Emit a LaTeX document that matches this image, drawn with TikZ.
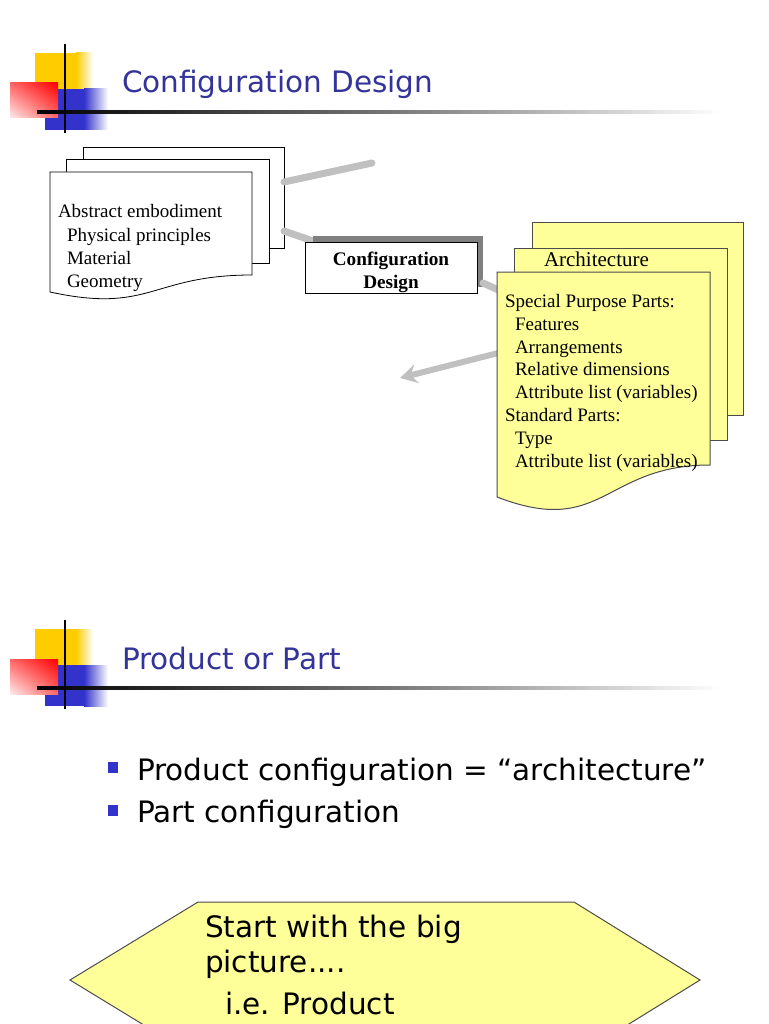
\documentclass[tikz,border=0pt]{standalone}
\usepackage{fontspec}
\setmainfont{Liberation Serif}
\newfontfamily\dejavu{DejaVu Sans}
\usetikzlibrary{arrows.meta,shadings}
\definecolor{titleblue}{HTML}{333399}
\definecolor{logoyellow}{HTML}{FFCC00}
\definecolor{logored}{HTML}{FF0000}
\definecolor{logoblue}{HTML}{3333CC}
\definecolor{paleyellow}{HTML}{FFFF99}
\definecolor{linkgray}{HTML}{C0C0C0}
\definecolor{shadowgray}{HTML}{808080}
\newcommand\slidelogo{%
  \fill[logoyellow] (35,53) rectangle (76,89);
  \shade[left color=logoyellow,right color=white] (76,53) rectangle (93,89);
  \fill[logoblue] (45,89) rectangle (84,130);
  \shade[left color=logoblue,right color=white] (84,89) rectangle (108,130);
  \shade[upper right=logored, upper left=logored!60, lower right=logored!60, lower left=logored!8] (10,83) rectangle (58,118);
  \shade[left color=black, right color=white, middle color=black!55] (37,110.8) rectangle (722,113.2);
  \draw[line width=2.5pt] (65,44) -- (65,133);
}
\begin{document}
\begin{tikzpicture}[x=1pt,y=-1pt,
  every node/.style={inner sep=0pt, outer sep=0pt},
  titletext/.style={font=\dejavu\fontsize{29.5}{35}\selectfont, text=titleblue, anchor=base west},
  doctext/.style={font=\fontsize{19}{23}\selectfont, anchor=base west},
  cfgtext/.style={font=\bfseries\fontsize{19.2}{23}\selectfont, anchor=base},
  bullettext/.style={font=\dejavu\fontsize{29.5}{35}\selectfont, anchor=base west},
  whitepage/.style={draw=black, line width=0.8pt, fill=white},
  yellowpage/.style={draw=black!70, line width=1pt, fill=paleyellow},
  link/.style={draw=linkgray, line width=7pt, line cap=round},
  bulletsq/.style={fill=logoblue, minimum width=10pt, minimum height=11pt}]
\useasboundingbox (0,0) rectangle (768,1024);
\fill[white] (0,0) rectangle (768,1024);
\begin{scope}
\clip (0,0) rectangle (768,1024);

% ---------- slide 1 ----------
\slidelogo
\node[titletext] (title1) at (122,93) {Configuration Design};

% coordinates for connector ends
\coordinate (freeEnd) at (372,163);
\coordinate (arrowTip) at (400,378);

% left document stack
\node[whitepage, minimum width=201pt, minimum height=101pt, anchor=north west] (lback) at (83,147) {};
\draw[link] (lback.east |- 0,182) -- (freeEnd);
\draw[link] (lback.east |- 0,231) -- (313,241);
\node[whitepage, minimum width=203pt, minimum height=104pt, anchor=north west] (lmid) at (66,159) {};
\draw[whitepage] (50,172) -- (252,172) -- (252,275) .. controls (151,275) and (151,314) .. (50,292) -- cycle;
\coordinate (lfront) at (50,172);
\node[doctext] (t1) at (58,218) {Abstract embodiment};
\node[doctext] (t2) at (67,241) {Physical principles};
\node[doctext] (t3) at (67,264) {Material};
\node[doctext] (t4) at (67,287) {Geometry};

% configuration design box
\fill[shadowgray] (313,236) rectangle (483,287);
\coordinate (cfgshadow) at (483,283);
\node[draw=black, line width=0.8pt, fill=white, minimum width=172pt, minimum height=51pt] (cfg) at (391,267.5) {};
\node[cfgtext] (cfg1) at (391,265) {Configuration};
\node[cfgtext] (cfg2) at (391,288) {Design};

% right (yellow) document stack
\draw[link] (cfgshadow) -- (505,293);
\draw[linkgray, line width=6pt, -{Stealth[length=17pt, width=19pt, inset=6pt]}] (510,350) -- (arrowTip);
\node[yellowpage, minimum width=211pt, minimum height=192pt, anchor=north west] (yback) at (532,223) {};
\node[yellowpage, minimum width=213pt, minimum height=192pt, anchor=north west] (ymid) at (514,248) {};
\node[doctext, font=\fontsize{21}{25}\selectfont] (arch) at (544,266) {Architecture};
\draw[yellowpage] (497,272) -- (710,272) -- (710,465) .. controls (603.5,465) and (603.5,538) .. (497,497) -- cycle;
\node[doctext] (s1) at (505,307) {Special Purpose Parts:};
\node[doctext] (s2) at (515,330) {Features};
\node[doctext] (s3) at (515,353) {Arrangements};
\node[doctext] (s4) at (515,375) {Relative dimensions};
\node[doctext] (s5) at (515,398) {Attribute list (variables)};
\node[doctext] (s6) at (505,421) {Standard Parts:};
\node[doctext] (s7) at (515,444) {Type};
\node[doctext] (s8) at (515,467) {Attribute list (variables)};

% ---------- slide 2 ----------
\begin{scope}[shift={(0,576)}]
\slidelogo
\end{scope}
\node[titletext] (title2) at (122,669) {Product or Part};

\node[bulletsq] (b1) at (113,767) {};
\node[bullettext] (bt1) at (137,780) {Product configuration = “architecture”};
\node[bulletsq] (b2) at (113,810) {};
\node[bullettext] (bt2) at (137,822) {Part configuration};

\draw[fill=paleyellow, draw=black!70, line width=1pt] (198,902) -- (574,902) -- (700,980) -- (574,1058) -- (198,1058) -- (70,980) -- cycle;
\coordinate (hexagon) at (385,980);
\node[bullettext] (h1) at (205,937) {Start with the big};
\node[bullettext] (h2) at (205,972) {picture....};
\node[bullettext] (h3) at (225,1014) {i.e. Product};
\end{scope}
\end{tikzpicture}
\end{document}
